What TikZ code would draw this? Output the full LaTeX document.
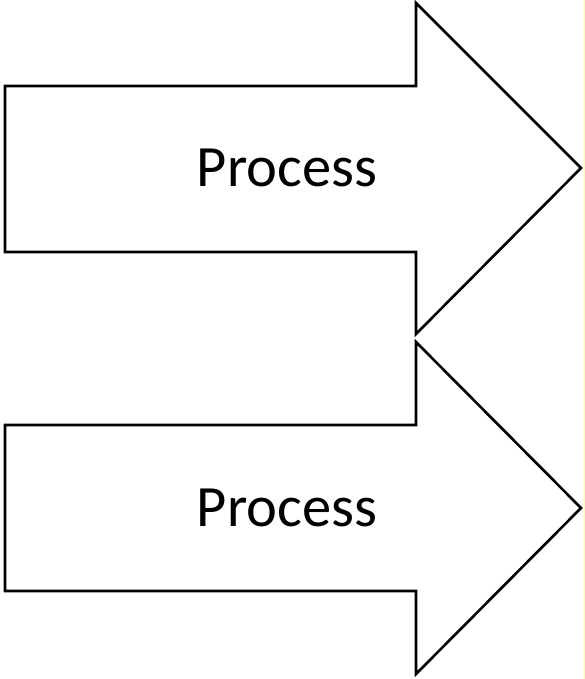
\documentclass[tikz,border=0pt]{standalone}
\usepackage{fontspec}
\setmainfont{Carlito}
\begin{document}
\begin{tikzpicture}[x=1pt,y=-1pt,
  arrowshape/.style={draw=black,line width=2.6pt,fill=white,line join=miter},
  label/.style={inner sep=0pt,font=\fontsize{58.5}{61}\selectfont}]
\useasboundingbox (0,0) rectangle (585,679);
\fill[white] (0,0) rectangle (585,679);
\draw[draw={rgb,255:red,255;green,255;blue,150},line width=1.2pt] (584.4,0) -- (584.4,679);
\draw[arrowshape] (5,86) -- (416,86) -- (416,3) -- (581,168) -- (416,334) -- (416,252) -- (5,252) -- cycle;
\draw[arrowshape] (5,425) -- (416,425) -- (416,342) -- (581,508) -- (416,674) -- (416,591) -- (5,591) -- cycle;
\node[label] (p1) at (287,168) {Process};
\node[label] (p2) at (287,508) {Process};
\end{tikzpicture}
\end{document}
